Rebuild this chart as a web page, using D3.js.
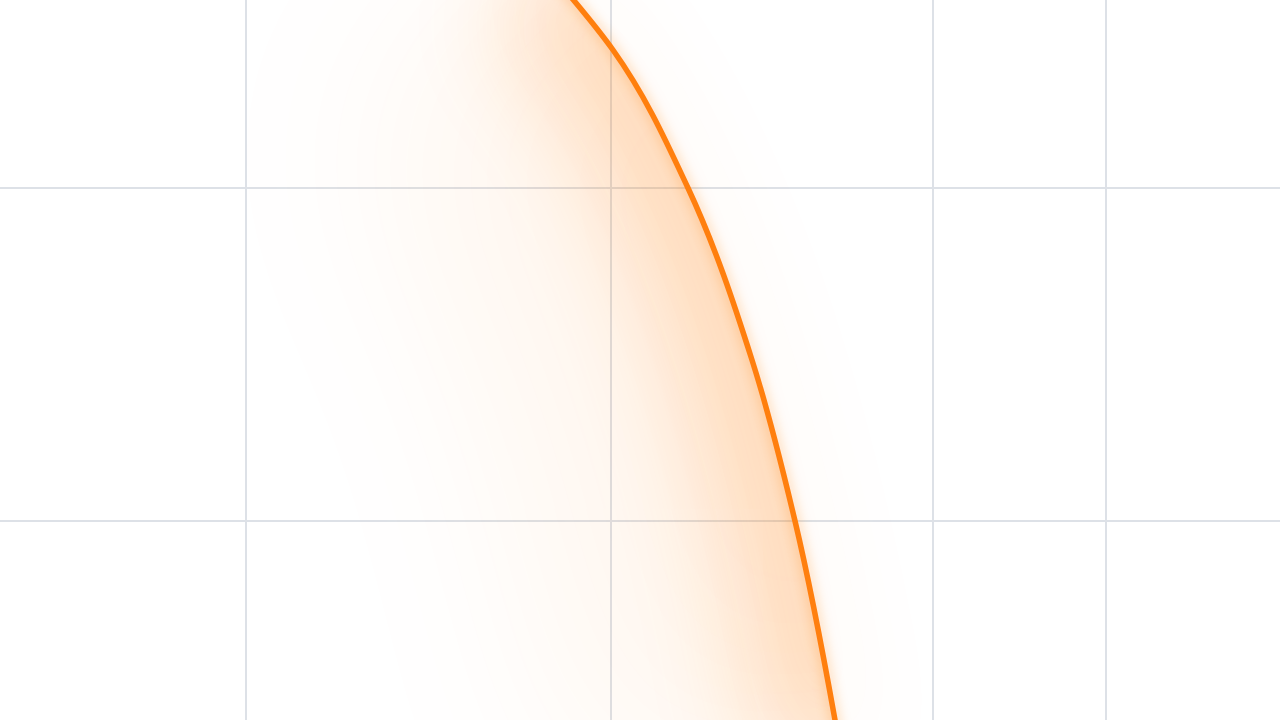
<!DOCTYPE html>
<html>
<head>
<meta charset="utf-8">
<script src="https://cdn.jsdelivr.net/npm/d3@7"></script>
<style>
  html, body { margin: 0; padding: 0; background: #fff; overflow: hidden; }
</style>
</head>
<body>
<div id="chart"></div>
<script>
// grid tick values
var xTicks = [2.46, 6.11, 9.33, 11.06];
var yTicks = [1.99, 5.32];

// curve values
var curveX = [5.48, 6.13, 6.88, 7.52, 7.95, 8.35, 8.42];
var curveY = [7.50, 6.70, 5.32, 3.60, 1.99, 0.00, -0.40];

var curve = curveX.map(function(x, i) { return { x: x, y: curveY[i] }; });

var width = 1280, height = 720;

var svg = d3.select("#chart")
    .append("svg")
    .attr("width", width)
    .attr("height", height);

var x = d3.scaleLinear().domain([0, 12.8]).range([0, width]);
var y = d3.scaleLinear().domain([0, 7.2]).range([height, 0]);

var defs = svg.append("defs");

function blurFilter(id, sd) {
    defs.append("filter")
        .attr("id", id)
        .attr("filterUnits", "userSpaceOnUse")
        .attr("x", -600).attr("y", -600)
        .attr("width", 2500).attr("height", 2000)
        .append("feGaussianBlur")
        .attr("stdDeviation", sd);
}
blurFilter("hugeBlur", 110);
blurFilter("bigBlur", 50);
blurFilter("smallBlur", 6);

// region left of the curve, keeps the wide glow on the inside
var leftArea = d3.area()
    .y(d => y(d.y))
    .x0(-400)
    .x1(d => x(d.x))
    .curve(d3.curveMonotoneY);

defs.append("clipPath")
    .attr("id", "insideClip")
    .append("path")
    .attr("d", leftArea(curve));

// grid
svg.append("g")
    .selectAll("line")
    .data(xTicks)
    .enter()
    .append("line")
    .attr("x1", d => x(d))
    .attr("x2", d => x(d))
    .attr("y1", 0)
    .attr("y2", height)
    .attr("stroke", "#dde1e7")
    .attr("stroke-width", 2);

svg.append("g")
    .selectAll("line")
    .data(yTicks)
    .enter()
    .append("line")
    .attr("x1", 0)
    .attr("x2", width)
    .attr("y1", d => y(d))
    .attr("y2", d => y(d))
    .attr("stroke", "#dde1e7")
    .attr("stroke-width", 2);

var line = d3.line()
    .x(d => x(d.x))
    .y(d => y(d.y))
    .curve(d3.curveMonotoneY);

var inside = svg.append("g")
    .attr("clip-path", "url(#insideClip)");

// far faint tint
inside.append("path")
    .datum(curve)
    .attr("d", line)
    .attr("fill", "none")
    .attr("stroke", "#ff7f0e")
    .attr("stroke-width", 500)
    .attr("opacity", 0.07)
    .attr("filter", "url(#hugeBlur)");

// wide soft glow, inside only
inside.append("path")
    .datum(curve)
    .attr("d", line)
    .attr("fill", "none")
    .attr("stroke", "#ff7f0e")
    .attr("stroke-width", 150)
    .attr("opacity", 0.2)
    .attr("filter", "url(#bigBlur)");

// faint glow on the outer side
svg.append("path")
    .datum(curve)
    .attr("d", line)
    .attr("fill", "none")
    .attr("stroke", "#ff7f0e")
    .attr("stroke-width", 50)
    .attr("opacity", 0.05)
    .attr("filter", "url(#bigBlur)");

// tight glow around the line
svg.append("path")
    .datum(curve)
    .attr("d", line)
    .attr("fill", "none")
    .attr("stroke", "#ff7f0e")
    .attr("stroke-width", 10)
    .attr("opacity", 0.25)
    .attr("filter", "url(#smallBlur)");

// the line itself
svg.append("path")
    .datum(curve)
    .attr("d", line)
    .attr("fill", "none")
    .attr("stroke", "#ff7f0e")
    .attr("stroke-width", 5.5)
    .attr("stroke-linecap", "round");
</script>
</body>
</html>
